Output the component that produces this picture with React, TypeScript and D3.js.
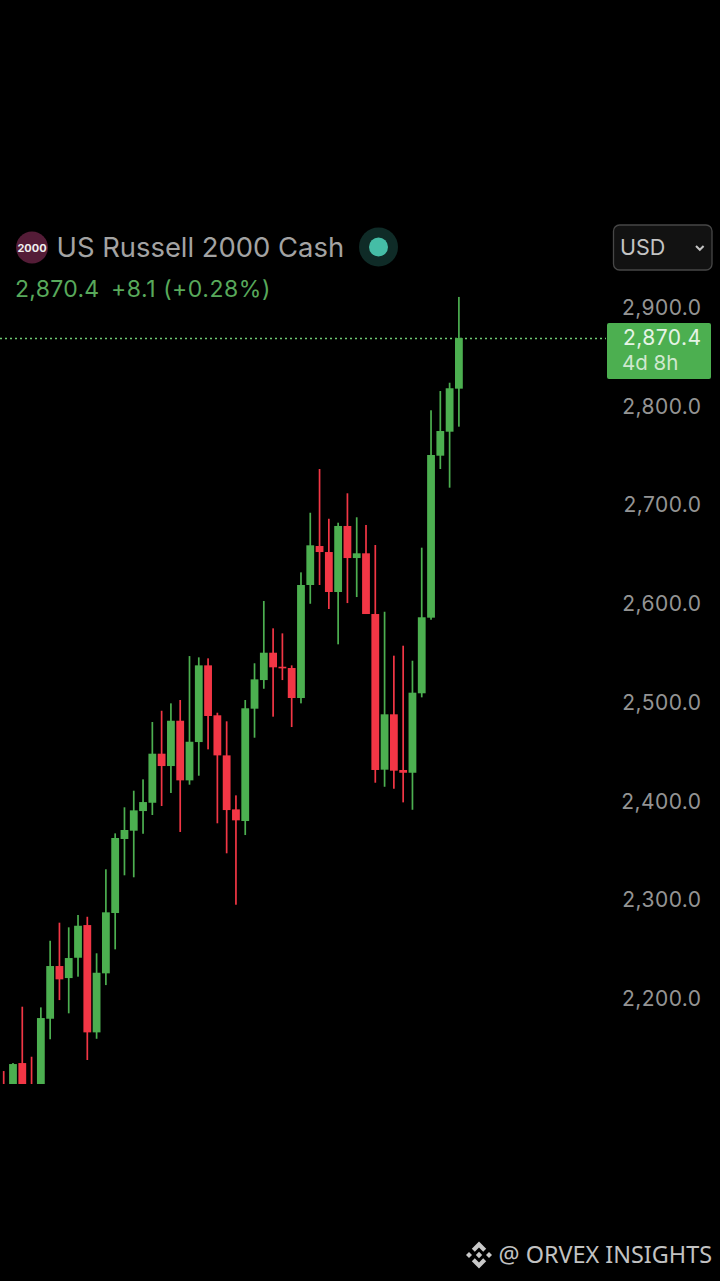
import React, { useEffect, useRef } from "react"
import * as d3 from "d3"

const opens = [
  2108.6, 2103.5, 2135.9, 2108.6, 2088, 2180.8, 2234.2, 2222, 2242.6, 2275.7,
  2167, 2226.8, 2287.9, 2362.9, 2371.3, 2391.2, 2399.6, 2449.3, 2436.8, 2482.7,
  2422.3, 2461.1, 2538.8, 2488.2, 2447.6, 2392.9, 2381.1, 2494.9, 2523.9, 2551.6,
  2537.4, 2536.1, 2505.7, 2620.2, 2659.7, 2653.6, 2613.1, 2680, 2647.5, 2652.3,
  2590.8, 2433.1, 2489.2, 2432.8, 2430, 2510.5, 2587.1, 2751.2, 2775.5, 2819.1,
]
const highs = [
  2127.8, 2135.9, 2193, 2142.3, 2192.3, 2259.8, 2278.1, 2273.4, 2285.9, 2284.1,
  2247.1, 2332.2, 2368.6, 2395, 2411.8, 2423.3, 2481.4, 2492.8, 2500.3, 2503.7,
  2548.2, 2546.9, 2545.9, 2490.8, 2482.1, 2407.1, 2503.7, 2540.9, 2604, 2576.3,
  2571.2, 2538.8, 2633, 2693.4, 2737.7, 2687.3, 2683.3, 2713.1, 2688.8, 2681,
  2660.7, 2593.1, 2548.6, 2558.7, 2543.5, 2658, 2797.2, 2816.7, 2825.1, 2912,
]
const lows = [
  2083, 2098, 2090, 2080, 2080, 2160, 2199.7, 2186.3, 2223.4, 2139,
  2160.5, 2214.9, 2251.1, 2326.1, 2324.1, 2368.2, 2387.2, 2396.3, 2409.5, 2370,
  2417.9, 2427, 2453.7, 2378.8, 2348.4, 2296.3, 2366.9, 2465.5, 2515.1, 2486.8,
  2523.9, 2476.3, 2500.3, 2601.2, 2620.2, 2595.9, 2560.1, 2601.9, 2608, 2590.8,
  2419.9, 2415.8, 2413.8, 2400, 2392.5, 2506.4, 2585, 2737.7, 2718.8, 2780.6,
]
const closes = [
  2088, 2134.9, 2098.4, 2088, 2181.5, 2234.2, 2220.7, 2242.3, 2275, 2167,
  2227.4, 2288.6, 2363.9, 2372, 2391.9, 2400.3, 2449.3, 2436.8, 2482.7, 2422.3,
  2461.4, 2538.8, 2487.5, 2447.6, 2392.2, 2381.8, 2495.3, 2524.6, 2551.6, 2536.8,
  2536.1, 2505.7, 2620.2, 2660.4, 2653.6, 2613.1, 2680, 2647.5, 2652.3, 2590.8,
  2432.8, 2489.2, 2432.1, 2430, 2511.1, 2587.5, 2751.9, 2776.2, 2819.5, 2870.4,
]
const priceTicks = [2200, 2300, 2400, 2500, 2600, 2700, 2800, 2900]

const lastPrice = 2870.4
const title = "US Russell 2000 Cash"
const changeText = "+8.1 (+0.28%)"
const countdown = "4d 8h"
const watermark = "@ ORVEX INSIGHTS"

const GREEN = "#4caf50"
const RED = "#f23645"
const FONT = "Inter, 'Noto Sans', sans-serif"

export default function App() {
  const svgRef = useRef<SVGSVGElement>(null)

  useEffect(() => {
    if (!svgRef.current) return
    const svg = d3.select(svgRef.current)
    svg.selectAll("*").remove()

    const x = d3.scaleLinear().domain([0, opens.length - 1]).range([3.7, 458.9])
    const y = d3.scaleLinear().domain([2100, 2900]).range([1098.5, 308.8])

    svg
      .append("defs")
      .append("clipPath")
      .attr("id", "plot")
      .append("rect")
      .attr("x", 0)
      .attr("y", 280)
      .attr("width", 606)
      .attr("height", 804)

    // Last price line
    svg
      .append("line")
      .attr("x1", 0)
      .attr("x2", 606)
      .attr("y1", Math.round(y(lastPrice)) + 0.5)
      .attr("y2", Math.round(y(lastPrice)) + 0.5)
      .attr("stroke", "#6fca73")
      .attr("stroke-width", 1.6)
      .attr("stroke-dasharray", "2 3")

    // Candles
    const candles = svg
      .append("g")
      .attr("clip-path", "url(#plot)")
      .selectAll("g")
      .data(d3.range(opens.length))
      .join("g")
      .attr("fill", (i) => (closes[i] >= opens[i] ? GREEN : RED))

    candles
      .append("rect")
      .attr("x", (i) => x(i) - 0.85)
      .attr("width", 1.7)
      .attr("y", (i) => y(highs[i]))
      .attr("height", (i) => y(lows[i]) - y(highs[i]))

    candles
      .append("rect")
      .attr("x", (i) => x(i) - 3.9)
      .attr("width", 7.8)
      .attr("y", (i) => y(Math.max(opens[i], closes[i])))
      .attr("height", (i) => Math.max(1.6, Math.abs(y(opens[i]) - y(closes[i]))))

    // Price axis
    const axis = svg
      .append("g")
      .attr("transform", "translate(701.5,0)")
      .call(
        d3
          .axisRight(y)
          .tickValues(priceTicks)
          .tickFormat(d3.format(",.1f") as any)
          .tickSize(0)
          .tickPadding(0)
      )
    axis.select(".domain").remove()
    axis
      .selectAll("text")
      .attr("text-anchor", "end")
      .attr("dy", "0.32em")
      .attr("y", -1)
      .attr("fill", "#949494")
      .attr("font-family", FONT)
      .attr("font-size", 21)
      .attr("letter-spacing", 0.45)

    // Last price badge
    svg
      .append("rect")
      .attr("x", 607)
      .attr("y", 323)
      .attr("width", 104)
      .attr("height", 56)
      .attr("rx", 2)
      .attr("fill", GREEN)
    svg
      .append("text")
      .attr("x", 701.5)
      .attr("y", 345)
      .attr("text-anchor", "end")
      .attr("fill", "#e6f4e6")
      .attr("font-family", FONT)
      .attr("font-size", 21)
      .attr("letter-spacing", 0.45)
      .text(d3.format(",.1f")(lastPrice))
    svg
      .append("text")
      .attr("x", 622)
      .attr("y", 370)
      .attr("fill", "#cfe8cf")
      .attr("font-family", FONT)
      .attr("font-size", 20.5)
      .text(countdown)

    // Header
    svg.append("circle").attr("cx", 32).attr("cy", 247.5).attr("r", 16).attr("fill", "#541c37")
    svg
      .append("text")
      .attr("x", 32)
      .attr("y", 252)
      .attr("text-anchor", "middle")
      .attr("fill", "#eeeeee")
      .attr("font-family", FONT)
      .attr("font-weight", 700)
      .attr("font-size", 11)
      .text("2000")
    svg
      .append("text")
      .attr("x", 56.5)
      .attr("y", 257)
      .attr("fill", "#a3a3a3")
      .attr("font-family", FONT)
      .attr("font-size", 27.4)
      .text(title)
    svg.append("circle").attr("cx", 378.5).attr("cy", 247).attr("r", 19.5).attr("fill", "#0f2b27")
    svg.append("circle").attr("cx", 378.5).attr("cy", 247).attr("r", 9.5).attr("fill", "#45bda6")
    svg
      .append("text")
      .attr("x", 15)
      .attr("y", 297)
      .attr("fill", "#58a95b")
      .attr("font-family", FONT)
      .attr("font-size", 23)
      .attr("letter-spacing", 0.3)
      .text(d3.format(",.1f")(lastPrice))
    svg
      .append("text")
      .attr("x", 111)
      .attr("y", 297)
      .attr("fill", "#58a95b")
      .attr("font-family", FONT)
      .attr("font-size", 23)
      .attr("letter-spacing", 0.55)
      .text(changeText)

    // Currency select
    svg
      .append("rect")
      .attr("x", 613.5)
      .attr("y", 225)
      .attr("width", 98.5)
      .attr("height", 45)
      .attr("rx", 6)
      .attr("fill", "#121212")
      .attr("stroke", "#474747")
      .attr("stroke-width", 1.3)
    svg
      .append("text")
      .attr("x", 620)
      .attr("y", 255)
      .attr("fill", "#c4c4c4")
      .attr("font-family", FONT)
      .attr("font-size", 21.5)
      .text("USD")
    svg
      .append("path")
      .attr("d", "M696 246l3.8 3.8 3.8-3.8")
      .attr("fill", "none")
      .attr("stroke", "#c4c4c4")
      .attr("stroke-width", 2)

    // Watermark
    const logo = svg.append("g").attr("transform", "translate(479,1255)").attr("fill", "#c8c8c8")
    logo.append("path").attr("d", "M0-13.5L7.2-6.3 4.2-3.3 0-7.5-4.2-3.3-7.2-6.3z")
    logo.append("path").attr("d", "M0 13.5L7.2 6.3 4.2 3.3 0 7.5-4.2 3.3-7.2 6.3z")
    logo.append("path").attr("d", "M0-3.2L3.2 0 0 3.2-3.2 0z")
    logo.append("path").attr("d", "M-10-3L-7 0l-3 3L-13 0z")
    logo.append("path").attr("d", "M10-3L13 0l-3 3L7 0z")
    svg
      .append("text")
      .attr("x", 712)
      .attr("y", 1263)
      .attr("text-anchor", "end")
      .attr("fill", "#c2c2c2")
      .attr("font-family", "'Noto Sans', sans-serif")
      .attr("font-size", 23.4)
      .text(watermark)
  }, [])

  return (
    <svg
      ref={svgRef}
      width={720}
      height={1281}
      style={{ position: "fixed", left: 0, top: 0, display: "block", background: "#000" }}
    />
  )
}
